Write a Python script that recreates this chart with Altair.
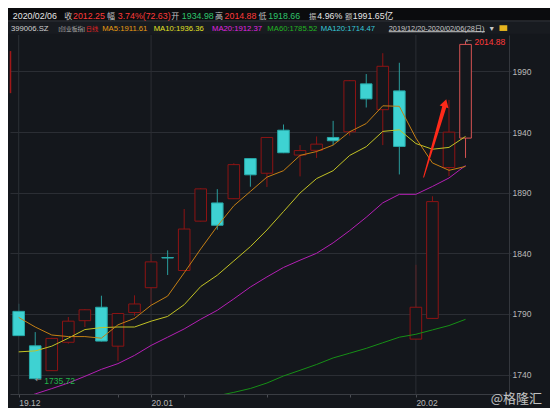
import altair as alt
import pandas as pd

# ---------------- data ----------------
dates = ["2019-12-20", "2019-12-23", "2019-12-24", "2019-12-25", "2019-12-26", "2019-12-27",
         "2019-12-30", "2019-12-31", "2020-01-02", "2020-01-03", "2020-01-06", "2020-01-07",
         "2020-01-08", "2020-01-09", "2020-01-10", "2020-01-13", "2020-01-14", "2020-01-15",
         "2020-01-16", "2020-01-17", "2020-01-20", "2020-01-21", "2020-01-22", "2020-01-23",
         "2020-02-03", "2020-02-04", "2020-02-05", "2020-02-06"]
opens = [1792.1, 1763.7, 1743.2, 1766.6, 1784.4, 1795.5, 1763.4, 1791.1, 1811.6, 1836.5,
         1825.8, 1866.5, 1881.5, 1885.0, 1918.1, 1906.0, 1941.5, 1921.0, 1924.9, 1935.5,
         1940.2, 1979.7, 1958.4, 1973.9, 1769.2, 1786.3, 1910.7, 1934.98]
closes = [1772.1, 1736.6, 1769.8, 1784.0, 1793.4, 1767.6, 1790.3, 1798.2, 1832.9, 1836.1,
          1860.0, 1893.1, 1863.1, 1913.1, 1904.7, 1935.5, 1922.9, 1924.7, 1930.0, 1932.8,
          1982.3, 1967.3, 1994.2, 1928.1, 1795.5, 1882.6, 1939.9, 2012.25]
highs = [1798.4, 1775.0, 1770.3, 1787.4, 1794.0, 1805.0, 1790.8, 1805.3, 1839.5, 1842.4,
         1876.5, 1893.6, 1892.9, 1914.2, 1918.4, 1935.9, 1946.2, 1929.2, 1936.3, 1949.2,
         1982.8, 1987.8, 2005.0, 1997.1, 1830.5, 1887.0, 1966.5, 2014.88]
lows = [1771.8, 1735.72, 1743.0, 1765.5, 1779.2, 1767.3, 1751.1, 1788.4, 1797.6, 1822.1,
        1825.5, 1866.2, 1859.4, 1884.7, 1894.9, 1894.7, 1922.6, 1903.4, 1918.6, 1929.2,
        1937.1, 1960.2, 1929.2, 1905.0, 1769.0, 1786.0, 1903.6, 1918.66]
ma5 = [1787.1, 1779.2, 1772.6, 1771.3, 1771.3, 1770.0, 1781.0, 1786.3, 1797.1, 1804.7,
       1823.9, 1843.6, 1862.3, 1879.2, 1891.0, 1902.8, 1908.1, 1920.7, 1923.9, 1929.2,
       1940.2, 1947.0, 1961.6, 1961.2, 1935.0, 1914.5, 1908.4, 1911.61]
ma10 = [1758.7, 1759.5, 1763.4, 1770.0, 1777.1, 1778.7, 1779.2, 1779.2, 1784.0, 1787.9,
        1797.6, 1812.6, 1821.9, 1833.7, 1845.5, 1859.2, 1874.4, 1889.7, 1901.6, 1908.1,
        1920.7, 1927.9, 1940.5, 1941.8, 1930.5, 1925.8, 1927.3, 1936.36]
ma20 = [1719.6, 1724.0, 1728.4, 1733.0, 1738.5, 1744.3, 1749.0, 1755.8, 1764.0, 1770.8,
        1777.6, 1785.6, 1793.0, 1802.4, 1812.2, 1820.5, 1828.3, 1834.3, 1840.0, 1848.6,
        1858.7, 1869.7, 1881.6, 1888.6, 1888.6, 1895.1, 1902.1, 1912.37]
ma60 = [None] * 12 + [1722.5, 1725.3, 1728.5, 1733.0, 1738.8, 1743.5, 1748.3, 1753.7,
                      1757.6, 1761.6, 1766.2, 1770.8, 1773.2, 1776.8, 1780.4, 1785.52]

month_idx = [0, 8, 24]
month_labels = ["19.12", "20.01", "20.02"]
week_ticks = [0, 6, 8, 10, 15, 20, 24]
y_ticks = [1740, 1790, 1840, 1890, 1940, 1990]

mark_idx = [27, 1]
mark_val = [2014.88, 1735.72]
mark_txt = ["2014.88", "1735.72"]

arrow_i = [24.47, 25.72]
arrow_v = [1902.8, 1961.0]
arrow_w = [1.0, 4.2]
head_i = [25.77]
head_v = [1963.9]

header1 = ["2020/02/06", "收", "2012.25", "幅", "3.74%(72.63)", "开", "1934.98", "高",
           "2014.88", "低", "1918.66", "振", "4.96%", "额", "1991.65亿"]
header2 = ["399006.SZ", "[创业板指]", "日线", "MA5:1911.61", "MA10:1936.36", "MA20:1912.37",
           "MA60:1785.52", "MA120:1714.47", "2019/12/20-2020/02/06(28日)", "▼"]
watermark = "@格隆汇"

# ---------------- styles / layout ----------------
BG = "#14171c"
GRID = "#2b2e34"
RED = "#8e1414"
RED_LAST = "#d65353"
CYAN = "#3ed2d2"
CYAN_EDGE = "#27a9a9"
CYAN_WICK = "#2a9c9c"
WHITE = "#e6e6e6"
GRAY = "#c4c4c4"
HRED = "#ff3a3a"
HGREEN = "#2fc46c"
FONT = "Liberation Sans, Noto Sans CJK SC"
CJK = "Noto Sans CJK SC"

header1_color = [WHITE, GRAY, HRED, GRAY, HRED, GRAY, HGREEN, GRAY, HRED, GRAY, HGREEN,
                 GRAY, WHITE, GRAY, WHITE]
header2_color = ["#d0d0d0", "#a8a8a8", "#e42222", "#e89b12", "#e2e224", "#e024e0",
                 "#22b422", "#36c8d8", "#c8c8c8", "#c8c8c8"]
header1_size = [8.8, 8.0, 8.8, 8.0, 8.8, 8.0, 8.8, 8.0, 8.8, 8.0, 8.8, 7.4, 8.8, 7.4, 8.8]
header2_size = [7.7, 5.8, 6.2, 7.7, 7.7, 7.7, 7.7, 7.7, 7.3, 7.0]
header1_xref = [5, 58, 67, 102, 113, 168, 179, 213, 223, 258, 268, 310, 318.5, 347, 355]
header2_xref = [3, 52, 80, 97, 150, 210, 267, 322, 392, 494.5]

SX = 542 / 558
SY = 400 / 418
PAD_L, PAD_T = 2, 27
W, H = 499, 359


def px(xr):
    return SX * xr - PAD_L


def py(yr):
    return SY * yr - PAD_T


xs = alt.Scale(domain=[-0.5245, 29.626], nice=False, zero=False)
ys = alt.Scale(domain=[1723.95, 2020.0], nice=False, zero=False)

df = pd.DataFrame({
    "i": list(range(len(dates))), "date": dates, "open": opens, "close": closes,
    "high": highs, "low": lows, "ma5": ma5, "ma10": ma10, "ma20": ma20, "ma60": ma60,
})
n = len(dates)
df["kind"] = ["last" if k == n - 1 else ("up" if c >= o else "down")
              for k, (o, c) in enumerate(zip(opens, closes))]

kinds = ["up", "down", "last"]

label_expr = " : ".join(f"datum.value == {m} ? '{l}'" for m, l in zip(month_idx, month_labels)) + " : ''"

X_AXIS = alt.Axis(
    values=week_ticks, labelExpr=label_expr, grid=False, domainColor="#3a3d43",
    tickColor="#4a4d53", tickSize=3, labelAlign="left", labelBaseline="top",
    labelPadding=1, labelFont=FONT, labelFontSize=8.5, labelColor="#b9b9b9",
    title=None, labelOverlap=False, labelFlush=False)
Y_AXIS = alt.Axis(
    orient="right", values=y_ticks, format="d", grid=True, gridColor=GRID,
    domainColor="#34373d", tickColor=GRID, tickSize=2, labelPadding=1, labelFont=FONT,
    labelFontSize=8.5, labelColor="#b9b9b9", title=None)


def X(field):
    return alt.X(field, scale=xs, axis=X_AXIS)


def Y(field):
    return alt.Y(field, scale=ys, axis=Y_AXIS)


base = alt.Chart(df)

wicks = base.mark_rule(strokeWidth=1).encode(
    x=X("i:Q"), y=Y("low:Q"), y2="high:Q",
    color=alt.Color("kind:N", scale=alt.Scale(domain=kinds, range=[RED, CYAN_WICK, RED_LAST]),
                    legend=None),
)

vgrid = alt.Chart(pd.DataFrame({"m": month_idx})).mark_rule(color=GRID, strokeWidth=1).encode(
    x=X("m:Q"))

bodies = base.mark_rect(strokeWidth=1).transform_calculate(
    x0="datum.i - 0.35", x1="datum.i + 0.35"
).encode(
    x=X("x0:Q"), x2="x1:Q", y=Y("open:Q"), y2="close:Q",
    fill=alt.Fill("kind:N", scale=alt.Scale(domain=kinds, range=[BG, CYAN, BG]), legend=None),
    stroke=alt.Stroke("kind:N", scale=alt.Scale(domain=kinds, range=[RED, CYAN_EDGE, RED_LAST]),
                      legend=None),
)


def ma_line(field, color):
    return base.transform_filter(f"isValid(datum.{field})").mark_line(
        color=color, strokeWidth=1, clip=True).encode(x=X("i:Q"), y=Y(f"{field}:Q"))


lines = [ma_line("ma60", "#168f16"), ma_line("ma20", "#b41fb4"),
         ma_line("ma10", "#c2c224"), ma_line("ma5", "#c47f14")]

arrow = alt.Chart(pd.DataFrame({"i": arrow_i, "v": arrow_v, "w": arrow_w})).mark_trail(
    color="#ff2a1a").encode(
    x=X("i:Q"), y=Y("v:Q"), size=alt.Size("w:Q", scale=None, legend=None))
head = alt.Chart(pd.DataFrame({"i": head_i, "v": head_v})).mark_point(
    shape="triangle-up", filled=True, color="#ff2a1a", size=85, angle=16, opacity=1).encode(
    x=X("i:Q"), y=Y("v:Q"))

mdf = pd.DataFrame({"i": mark_idx, "v": mark_val, "t": mark_txt})
mark_arrows = alt.Chart(mdf).mark_text(text="←", align="left", baseline="middle", dx=0,
                                       font="DejaVu Sans", fontSize=8, color="#9a9a9a").encode(
    x=X("i:Q"), y=Y("v:Q"))
mark_texts = [
    alt.Chart(mdf.iloc[[k]]).mark_text(align="left", baseline="middle", dx=9, dy=1,
                                        font=FONT, fontSize=8.5, color=col).encode(
        x=X("i:Q"), y=Y("v:Q"), text="t:N")
    for k, col in enumerate([HRED, "#22b44a"])
]

# header
one = pd.DataFrame({"a": [0]})
hdr_bg = alt.Chart(one).mark_rect(color="#0b0c0e").encode(
    x=alt.value(-PAD_L), x2=alt.value(542), y=alt.value(-PAD_T), y2=alt.value(py(13.5)))
hdr_bg2 = alt.Chart(one).mark_rect(color="#181b20").encode(
    x=alt.value(-PAD_L), x2=alt.value(542), y=alt.value(py(13.5)), y2=alt.value(py(27)))
hdr_sep = alt.Chart(one).mark_rule(color="#35383d").encode(
    x=alt.value(-PAD_L), x2=alt.value(542), y=alt.value(py(13.5)))


def token_layers(texts, colors, sizes, xrefs, yref):
    out = []
    for t, c, s, xr in zip(texts, colors, sizes, xrefs):
        out.append(alt.Chart(one).mark_text(
            text=t, color=c, fontSize=s, font=FONT, align="left", baseline="alphabetic").encode(
            x=alt.value(px(xr)), y=alt.value(py(yref))))
    return out


hdr1 = token_layers(header1, header1_color, header1_size, header1_xref, 12.0)
hdr2 = token_layers(header2, header2_color, header2_size, header2_xref, 23.6)

underline = alt.Chart(one).mark_rule(color="#c8c8c8").encode(
    x=alt.value(px(392)), x2=alt.value(px(491)), y=alt.value(py(24.8)))
lock = alt.Chart(one).mark_rect(color="#e6b41e").encode(
    x=alt.value(px(506)), x2=alt.value(px(514)), y=alt.value(py(18)), y2=alt.value(py(24)))
left_bar = alt.Chart(one).mark_rule(color="#a01818", strokeWidth=1.5).encode(
    x=alt.value(0.5), y=alt.value(py(45)), y2=alt.value(py(89)))
wm = alt.Chart(one).mark_text(
    text=watermark, align="left", baseline="middle", font=CJK, fontSize=13, color="#e0e0e0",
    opacity=0.85).encode(x=alt.value(px(497)), y=alt.value(py(409)))

chart = alt.layer(
    wicks, hdr_bg, hdr_bg2, hdr_sep, vgrid, bodies, *lines, arrow, head,
    mark_arrows, *mark_texts, *hdr1, *hdr2, underline, lock, left_bar, wm
).properties(
    width=W, height=H, background=BG,
    padding={"left": PAD_L, "top": PAD_T, "right": 542 - PAD_L - W, "bottom": 400 - PAD_T - H},
    autosize=alt.AutoSizeParams(type="none"),
).configure_view(stroke=None, fill=BG)

chart.save("out.html", embed_options={"renderer": "svg", "actions": False})
